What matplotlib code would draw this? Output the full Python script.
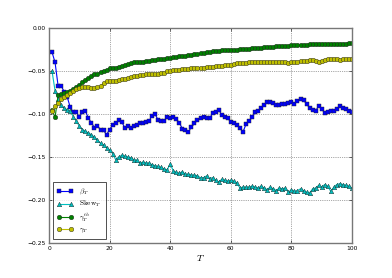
import numpy as np
import matplotlib
matplotlib.use('Agg')
import matplotlib.pyplot as plt

# --- Data ---
T = np.arange(1, 101)

beta_T = [
    -0.028, -0.040, -0.067, -0.067, -0.074, -0.080, -0.092, -0.098, -0.098, -0.103,
    -0.098, -0.096, -0.105, -0.110, -0.116, -0.114, -0.118, -0.119, -0.124, -0.118,
    -0.113, -0.111, -0.107, -0.109, -0.116, -0.114, -0.116, -0.114, -0.113, -0.111,
    -0.110, -0.109, -0.108, -0.102, -0.100, -0.107, -0.108, -0.108, -0.103, -0.105,
    -0.104, -0.106, -0.110, -0.117, -0.119, -0.121, -0.115, -0.111, -0.107, -0.105,
    -0.104, -0.105, -0.105, -0.099, -0.098, -0.095, -0.101, -0.103, -0.105, -0.109,
    -0.111, -0.113, -0.116, -0.121, -0.112, -0.108, -0.104, -0.098, -0.096, -0.093,
    -0.090, -0.086, -0.086, -0.087, -0.089, -0.089, -0.088, -0.088, -0.087, -0.086,
    -0.088, -0.085, -0.082, -0.084, -0.088, -0.093, -0.095, -0.096, -0.091, -0.094,
    -0.099, -0.098, -0.097, -0.097, -0.094, -0.091, -0.093, -0.094, -0.096, -0.098,
]

skew_T = [
    -0.050, -0.073, -0.082, -0.090, -0.093, -0.095, -0.096, -0.103, -0.108, -0.114,
    -0.118, -0.120, -0.122, -0.124, -0.127, -0.130, -0.134, -0.136, -0.139, -0.142,
    -0.146, -0.153, -0.150, -0.148, -0.149, -0.150, -0.151, -0.153, -0.154, -0.157,
    -0.156, -0.157, -0.157, -0.159, -0.160, -0.161, -0.162, -0.164, -0.165, -0.158,
    -0.166, -0.168, -0.169, -0.167, -0.170, -0.170, -0.171, -0.171, -0.172, -0.174,
    -0.174, -0.172, -0.175, -0.174, -0.177, -0.179, -0.176, -0.177, -0.178, -0.177,
    -0.178, -0.180, -0.186, -0.185, -0.185, -0.185, -0.184, -0.185, -0.186, -0.184,
    -0.186, -0.188, -0.185, -0.187, -0.189, -0.186, -0.187, -0.186, -0.191, -0.188,
    -0.190, -0.189, -0.187, -0.189, -0.191, -0.192, -0.187, -0.186, -0.183, -0.185,
    -0.182, -0.184, -0.190, -0.185, -0.182, -0.181, -0.182, -0.183, -0.184, -0.186,
]

gamma_th = [
    -0.095, -0.104, -0.078, -0.077, -0.075, -0.074, -0.073, -0.071, -0.068, -0.066,
    -0.063, -0.060, -0.058, -0.056, -0.054, -0.053, -0.051, -0.050, -0.049, -0.047,
    -0.047, -0.046, -0.045, -0.044, -0.043, -0.042, -0.041, -0.040, -0.040, -0.039,
    -0.039, -0.038, -0.038, -0.037, -0.037, -0.036, -0.036, -0.036, -0.035, -0.035,
    -0.034, -0.034, -0.033, -0.033, -0.032, -0.031, -0.031, -0.030, -0.030, -0.029,
    -0.029, -0.028, -0.028, -0.027, -0.027, -0.027, -0.026, -0.026, -0.026, -0.025,
    -0.025, -0.025, -0.024, -0.024, -0.024, -0.024, -0.023, -0.023, -0.023, -0.023,
    -0.022, -0.022, -0.022, -0.022, -0.021, -0.021, -0.021, -0.021, -0.021, -0.020,
    -0.020, -0.020, -0.020, -0.020, -0.020, -0.019, -0.019, -0.019, -0.019, -0.019,
    -0.019, -0.019, -0.018, -0.018, -0.018, -0.018, -0.018, -0.018, -0.017, -0.017,
]

gamma_T = [
    -0.096, -0.091, -0.087, -0.083, -0.080, -0.078, -0.075, -0.073, -0.071, -0.070,
    -0.069, -0.069, -0.069, -0.070, -0.070, -0.069, -0.067, -0.064, -0.062, -0.062,
    -0.061, -0.061, -0.060, -0.059, -0.059, -0.058, -0.057, -0.056, -0.056, -0.055,
    -0.055, -0.054, -0.054, -0.054, -0.053, -0.053, -0.052, -0.052, -0.050, -0.050,
    -0.049, -0.049, -0.049, -0.048, -0.048, -0.048, -0.047, -0.047, -0.046, -0.046,
    -0.046, -0.045, -0.045, -0.045, -0.044, -0.044, -0.044, -0.043, -0.043, -0.043,
    -0.042, -0.041, -0.041, -0.041, -0.041, -0.040, -0.040, -0.040, -0.040, -0.040,
    -0.039, -0.039, -0.039, -0.039, -0.040, -0.039, -0.039, -0.040, -0.041, -0.040,
    -0.039, -0.039, -0.038, -0.038, -0.038, -0.037, -0.037, -0.038, -0.039, -0.038,
    -0.037, -0.036, -0.036, -0.036, -0.036, -0.037, -0.036, -0.036, -0.036, -0.036,
]

# --- Styling ---
plt.rcParams.update({
    'font.family': 'DejaVu Sans',
    'mathtext.fontset': 'cm',
    'font.size': 4.3,
    'xtick.direction': 'in',
    'ytick.direction': 'in',
    'xtick.top': True,
    'ytick.right': True,
    'xtick.major.size': 2.5,
    'ytick.major.size': 2.5,
    'xtick.major.width': 0.4,
    'ytick.major.width': 0.4,
    'xtick.major.pad': 2.5,
    'ytick.major.pad': 2.5,
})

series = [
    (beta_T, 's', '#0000ff', r'$\beta_T$'),
    (skew_T, '^', '#00bfbf', r'$\mathrm{Skew}_T$'),
    (gamma_th, 'o', '#008000', r'$\gamma_T^{th}$'),
    (gamma_T, 'o', '#bfbf00', r'$\gamma_T$'),
]

fig = plt.figure(figsize=(3.92, 2.78), dpi=100)
ax = fig.add_axes([0.125, 0.126, 0.773, 0.773])

for vals, mk, col, lbl in series:
    ax.plot(T, vals, '-', marker=mk, color=col, lw=0.8, ms=3.3,
            mec='#222222', mew=0.3, label=lbl)

ax.set_xlim(0, 100)
ax.set_ylim(-0.25, 0.0)
ax.set_xticks([0, 20, 40, 60, 80, 100])
ax.set_yticks([-0.25, -0.20, -0.15, -0.10, -0.05, 0.00])
ax.grid(True, linestyle=':', color='#555555', lw=0.5)
ax.set_xlabel(r'$T$', fontsize=7, labelpad=1)
for sp in ax.spines.values():
    sp.set_color('#777777')
    sp.set_linewidth(1.0)

leg = ax.legend(loc='lower left', numpoints=2, fontsize=5.3, fancybox=False,
                borderaxespad=0.5, handlelength=2.2, labelspacing=0.3,
                borderpad=0.6)
leg.get_frame().set_edgecolor('black')
leg.get_frame().set_linewidth(0.6)

fig.savefig('out.png', dpi=100)
